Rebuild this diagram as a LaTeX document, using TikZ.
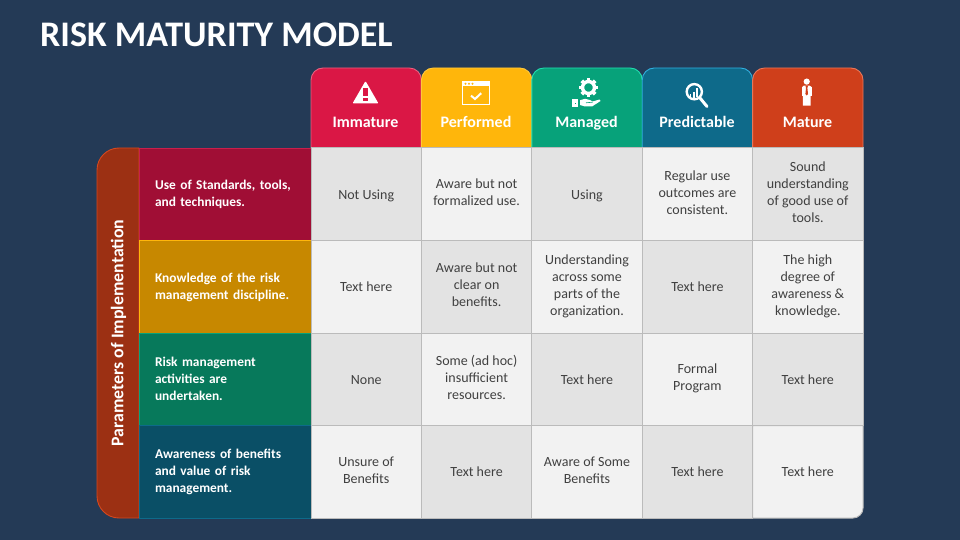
\documentclass[tikz,border=0pt]{standalone}
\usepackage{fontspec}
\setmainfont{Carlito}
\definecolor{bg}{HTML}{243A56}
\definecolor{cA}{HTML}{E3E3E3}
\definecolor{cB}{HTML}{F2F2F2}
\definecolor{grid}{HTML}{BBBBBB}
\definecolor{txt}{HTML}{404040}
\definecolor{hRed}{HTML}{DA1745}\definecolor{hRedL}{HTML}{E8607F}
\definecolor{hYel}{HTML}{FFB60B}\definecolor{hYelL}{HTML}{FFC83C}
\definecolor{hGrn}{HTML}{07A27A}\definecolor{hGrnL}{HTML}{22DDB0}
\definecolor{hBlu}{HTML}{0E6A8A}\definecolor{hBluL}{HTML}{31AEDD}
\definecolor{hOrg}{HTML}{CF3F1B}\definecolor{hOrgL}{HTML}{E8775A}
\definecolor{rRed}{HTML}{A00E35}\definecolor{rRedL}{HTML}{C8204C}
\definecolor{rYel}{HTML}{C78800}\definecolor{rYelL}{HTML}{FFB60B}
\definecolor{rGrn}{HTML}{07795B}\definecolor{rGrnL}{HTML}{07A27A}
\definecolor{rBlu}{HTML}{0A4F66}\definecolor{rBluL}{HTML}{0E6A8A}
\definecolor{strip}{HTML}{9C3013}\definecolor{stripL}{HTML}{D4481F}
\tikzset{
  celltext/.style={text=txt,align=center,inner sep=0pt,font=\fontsize{14}{17}\selectfont,execute at begin node=\rule{0pt}{13.4pt},execute at end node=\rule[-3.6pt]{0pt}{3.6pt}},
  cell/.style={celltext,draw=grid,line width=1pt,minimum width=110.4pt,minimum height=92.5pt},
  cellA/.style={cell,fill=cA},
  cellB/.style={cell,fill=cB},
  rowlab/.style={line width=.9pt,minimum width=172pt,minimum height=92.5pt,inner sep=0pt,align=left,text=white,text width=140pt,font=\fontsize{13.4}{17}\selectfont\bfseries,execute at begin node=\strut,execute at end node=\strut},
  rowlabl/.style={rowlab,execute at begin node=\rule{0pt}{12.9pt},execute at end node=\rule[-4.1pt]{0pt}{4.1pt}},
  headlab/.style={text=white,inner sep=0pt,anchor=base,font=\fontsize{16}{19}\selectfont\bfseries},
}
\newcommand{\headtab}[3]{\path[fill=#2,draw=#3,line width=.9pt] (#1,148) -- (#1,80) arc[start angle=180,end angle=90,x radius=12,y radius=-12] -- ({#1+98.4},68) arc[start angle=90,end angle=0,x radius=12,y radius=-12] -- ({#1+110.4},148) -- cycle;}
\begin{document}
\begin{tikzpicture}[x=1pt,y=-1pt]
\useasboundingbox (0,0) rectangle (960,540);
\fill[bg] (0,0) rectangle (960,540);
\node[anchor=west,text=white,inner sep=0pt,font=\fontsize{36}{40}\selectfont\bfseries] (title) at (40,34.5) {RISK MATURITY MODEL};
% headers
\headtab{311}{hRed}{hRedL}
\headtab{421.4}{hYel}{hYelL}
\headtab{531.8}{hGrn}{hGrnL}
\headtab{642.2}{hBlu}{hBluL}
\headtab{752.6}{hOrg}{hOrgL}
\node[headlab] (h1) at (365.5,128) {Immature};
\node[headlab] (h2) at (476,128) {Performed};
\node[headlab] (h3) at (586.5,128) {Managed};
\node[headlab] (h4) at (697,128) {Predictable};
\node[headlab] (h5) at (807.5,128) {Mature};
% icon: warning
\fill[white,rounded corners=1pt] (365.5,81) -- (378.5,103.5) -- (352.5,103.5) -- cycle;
\fill[hRed] (363.3,88.3) rectangle (367.7,95.8);
\fill[hRed] (363.3,97.6) rectangle (367.7,100.8);
% icon: window
\draw[white,line width=1.3pt] (462.8,81.6) rectangle (489.7,104.2);
\fill[white] (462.8,81.6) rectangle (489.7,86);
\foreach \dx in {465.5,469,472.5} \fill[hYel] (\dx,83.7) circle (1.1);
\draw[white,line width=2pt] (471,95.6) -- (475,99) -- (481.2,93.2);
% icon: gear and hand
\foreach \a in {0,45,...,315} \fill[white,rotate around={\a:(588.5,87.5)}] (586.6,78) rectangle (590.4,82);
\draw[white,line width=3.4pt] (588.5,87.5) circle (6);
\fill[white] (572.3,99) rectangle (578.3,106.8);
\fill[hGrn] (574.6,102.6) rectangle (576,104);
\fill[white] (580,100.2) -- (585,98.8) -- (590,100) -- (592.5,101.5) -- (599.5,99.5) -- (600.5,101) -- (592,106.5) -- (585,106.5) -- (580,105) -- cycle;
\draw[hGrn,line width=.6pt] (586,102.8) -- (592.5,102.2);
% icon: magnifier
\draw[white,line width=2.4pt] (694.3,91.7) circle (7.6);
\draw[white,line width=3pt,line cap=round] (699.8,97.8) -- (707,106.5);
\fill[white] (689.6,94.5) rectangle (691.2,97.5);
\fill[white] (693,92) rectangle (694.6,98);
\fill[white] (696.4,88.5) rectangle (698,97);
% icon: person
\fill[white] (806.7,81.6) circle (3.1);
\fill[white] (803.8,85.6) -- (809.6,85.6) -- (811.8,87.2) -- (811.8,96) -- (810.6,96) -- (810.6,105.7) -- (802.8,105.7) -- (802.8,96) -- (802,96) -- (802,87.2) -- cycle;
\fill[hOrg] (805.4,85.6) -- (808,85.6) -- (807.4,88) -- (808,94) -- (806.7,95.5) -- (805.4,94) -- (806,88) -- cycle;
% strip
\path[fill=strip,draw=stripL,line width=.9pt] (139,148) -- (119,148) arc[start angle=90,end angle=180,x radius=22,y radius=-22] -- (97,496) arc[start angle=180,end angle=270,x radius=22,y radius=-22] -- (139,518) -- cycle;
\node[rotate=90,text=white,inner sep=0pt,font=\fontsize{17.8}{20}\selectfont\bfseries] (strip) at (118.5,333) {Parameters of Implementation};
% row labels
\node[rowlab,fill=rRed,draw=rRedL,anchor=center] (r1) at (225,194.25) {Use of Standards, tools,\\and techniques.};
\node[rowlabl,fill=rYel,draw=rYelL,anchor=center] (r2) at (225,286.75) {Knowledge of the risk\\management discipline.};
\node[rowlabl,fill=rGrn,draw=rGrnL,anchor=center] (r3) at (225,379.25) {Risk management\\activities are\\undertaken.};
\node[rowlabl,fill=rBlu,draw=rBluL,anchor=center] (r4) at (225,471.75) {Awareness of benefits\\and value of risk\\management.};
% row 1
\node[cellA] (c11) at (366.2,194.25) {Not Using};
\node[cellB] (c12) at (476.6,194.25) {Aware but not\\formalized use.};
\node[cellA] (c13) at (587,194.25) {Using};
\node[cellB] (c14) at (697.4,194.25) {Regular use\\outcomes are\\consistent.};
\node[cellA] (c15) at (807.8,194.25) {Sound\\understanding\\of good use of\\tools.};
% row 2
\node[cellB] (c21) at (366.2,286.75) {Text here};
\node[cellA] (c22) at (476.6,286.75) {Aware but not\\clear on\\benefits.};
\node[cellB] (c23) at (587,286.75) {Understanding\\across some\\parts of the\\organization.};
\node[cellA] (c24) at (697.4,286.75) {Text here};
\node[cellB] (c25) at (807.8,286.75) {The high\\degree of\\awareness \&\\knowledge.};
% row 3
\node[cellA] (c31) at (366.2,379.25) {None};
\node[cellB] (c32) at (476.6,379.25) {Some (ad hoc)\\insufficient\\resources.};
\node[cellA] (c33) at (587,379.25) {Text here};
\node[cellB] (c34) at (697.4,379.25) {Formal\\Program};
\node[cellA] (c35) at (807.8,379.25) {Text here};
% row 4
\node[cellB] (c41) at (366.2,471.75) {Unsure of\\Benefits};
\node[cellA] (c42) at (476.6,471.75) {Text here};
\node[cellB] (c43) at (587,471.75) {Aware of Some\\Benefits};
\node[cellA] (c44) at (697.4,471.75) {Text here};
\path[fill=cB,draw=grid,line width=1pt] (752.6,425.5) -- (863,425.5) -- (863,508) arc[start angle=0,end angle=90,x radius=10,y radius=10] -- (752.6,518) -- cycle;
\node[celltext] (c45) at (807.8,471.75) {Text here};
\end{tikzpicture}
\end{document}
